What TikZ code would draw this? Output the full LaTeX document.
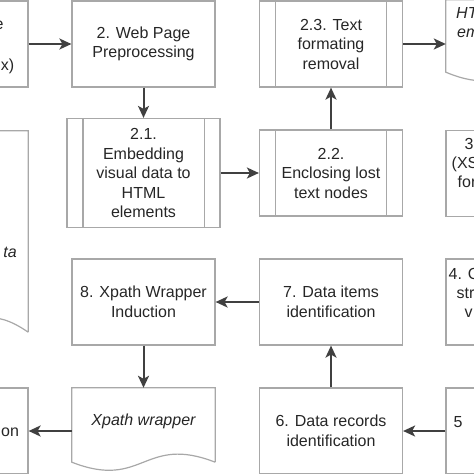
\documentclass[tikz,border=0pt]{standalone}
\usepackage{fontspec}
\setmainfont{Liberation Sans}
\usetikzlibrary{arrows.meta, calc}

\definecolor{boxgray}{HTML}{A8A8A8}
\definecolor{arrowgray}{HTML}{404040}
\definecolor{txtgray}{HTML}{262626}

\newcommand{\labelfont}{\fontsize{16}{19.5}\selectfont}
% document outline with a wavy bottom
\newcommand{\docoutline}[2]{%
  \draw [docline] (#1.south east) -- (#1.north east) -- (#1.north west) -- (#1.south west)
    .. controls ($(#1.south)+(0,#2)$) and ($(#1.south)+(0,-#2)$) .. (#1.south east);}

\begin{document}
\begin{tikzpicture}[
        x=1pt, y=-1pt,
        box/.style={rectangle, draw=boxgray, line width=1.2pt, minimum width=143pt, minimum height=86pt, inner sep=0pt, align=center, text=txtgray, font=\labelfont},
        doc/.style={rectangle, minimum width=143pt, inner sep=0pt, align=center, text=txtgray, font=\labelfont\itshape},
        docline/.style={draw=boxgray, line width=1.2pt},
        frag/.style={inner sep=0pt, text=txtgray, font=\labelfont},
        arrow/.style={line width=2pt, draw=arrowgray, -{Stealth[length=12pt, width=11pt, inset=3pt]}}
    ]
    \useasboundingbox (0,0) rectangle (474,474);
    \clip (0,0) rectangle (474,474);

    % row 1
    \node (render) [box] at (-43.5,44) {};
    \node (prep) [box] at (143.5,44) {2. Web Page\\Preprocessing};
    \node (textrm) [box] at (331,44) {2.3. Text\\formating\\removal};
    \node (htdoc) [doc, minimum height=72pt] at (517.5,36) {};

    % row 2
    \node (data) [doc, minimum height=201pt] at (-43.5,231.5) {};
    \node (embed) [box, minimum width=153pt, minimum height=109pt] at (143.5,173) {2.1.\\Embedding\\visual data to\\HTML\\elements};
    \node (enclose) [box] at (331,173) {2.2.\\Enclosing lost\\text nodes};
    \node (xslt) [box] at (517.5,173.5) {};

    % row 3
    \node (wrapind) [box] at (143.5,302) {8. Xpath Wrapper\\Induction};
    \node (items) [box] at (331,302) {7. Data items\\identification};
    \node (struct) [box] at (517.5,302) {};

    % row 4
    \node (result) [box] at (-43.5,431) {};
    \node (xwrap) [doc, minimum height=74pt, text height=0pt, text depth=0pt] at (143.5,425) {Xpath wrapper};
    \node (records) [box] at (331,431) {6. Data records\\identification};
    \node (step5) [box] at (517.5,431) {};

    \docoutline{htdoc}{30}
    \docoutline{data}{50}
    \docoutline{xwrap}{28}

    \foreach \n in {embed, enclose, textrm}
        \draw [docline] ([xshift=16.5pt]\n.north west) -- ([xshift=16.5pt]\n.south west)
            ([xshift=-16.5pt]\n.north east) -- ([xshift=-16.5pt]\n.south east);

    % what is left of the cut-off labels
    \node [frag, anchor=base east] at (3.6,29) {e};
    \node [frag, anchor=base east] at (14.5,70) {x)};
    \node [frag, anchor=base west, font=\labelfont\itshape] at (456,18) {HT};
    \node [frag, anchor=base west, font=\labelfont\itshape] at (457,37) {em};
    \node [frag, anchor=base east, font=\labelfont\itshape] at (17,257) {ta};
    \node [frag, anchor=base west] at (464.5,149) {3};
    \node [frag, anchor=base west] at (451.5,168) {(XS};
    \node [frag, anchor=base west] at (457.5,187) {for};
    \node [frag, anchor=base west] at (448.5,279) {4. C};
    \node [frag, anchor=base west] at (456.5,298) {str};
    \node [frag, anchor=base west] at (464.5,317) {v};
    \node [frag, anchor=base west] at (453.5,427) {5};
    \node [frag, anchor=base west] at (1,436) {on};

    \draw [arrow] (render) -- (prep);
    \draw [arrow] (prep) -- (embed);
    \draw [arrow] (embed) -- (enclose);
    \draw [arrow] (enclose) -- (textrm);
    \draw [arrow] (textrm) -- (htdoc.west |- textrm);
    \draw [arrow] (items) -- (wrapind);
    \draw [arrow] (wrapind) -- (xwrap);
    \draw [arrow] (records) -- (items);
    \draw [arrow] (step5) -- (records);
    \draw [arrow] (xwrap.west |- result) -- (result);

\end{tikzpicture}
\end{document}
